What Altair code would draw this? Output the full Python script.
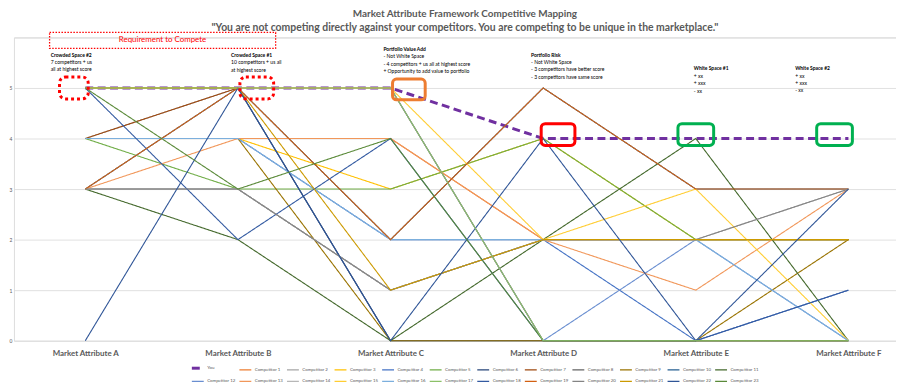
import altair as alt
import pandas as pd

# ---------------- data ----------------
categories = ["Market Attribute A", "Market Attribute B", "Market Attribute C",
              "Market Attribute D", "Market Attribute E", "Market Attribute F"]

series_names = ["You"] + [f"Competitor {i}" for i in range(1, 24)]

you_scores = [5, 5, 5, 4, 4, 4]
competitor_scores = [
    [4, 4, 4, 2, 2, 2],   # Competitor 1
    [4, 5, 0, 0, 0, 0],   # Competitor 2
    [4, 4, 3, 4, 2, 2],   # Competitor 3
    [4, 4, 2, 2, 0, 1],   # Competitor 4
    [4, 3, 3, 4, 2, 2],   # Competitor 5
    [5, 5, 0, 0, 0, 0],   # Competitor 6
    [4, 5, 5, 0, 0, 0],   # Competitor 7
    [3, 3, 1, 2, 2, 2],   # Competitor 8
    [4, 4, 0, 0, 0, 2],   # Competitor 9
    [3, 5, 2, 5, 3, 3],   # Competitor 10
    [3, 2, 0, 2, 4, 0],   # Competitor 11
    [5, 5, 5, 0, 2, 0],   # Competitor 12
    [3, 4, 4, 2, 1, 3],   # Competitor 13
    [3, 3, 1, 2, 2, 3],   # Competitor 14
    [5, 5, 5, 2, 3, 0],   # Competitor 15
    [4, 4, 2, 2, 2, 0],   # Competitor 16
    [5, 5, 5, 0, 0, 0],   # Competitor 17
    [5, 2, 4, 0, 0, 1],   # Competitor 18
    [3, 5, 2, 5, 3, 3],   # Competitor 19
    [3, 3, 1, 2, 2, 3],   # Competitor 20
    [5, 5, 1, 2, 2, 2],   # Competitor 21
    [0, 5, 0, 4, 0, 3],   # Competitor 22
    [5, 3, 4, 0, 0, 0],   # Competitor 23
]

series_colors = ["#7030A0",
                 "#ED7D31", "#A5A5A5", "#FFC000", "#4472C4", "#70AD47",
                 "#264478", "#9E480E", "#636363", "#997300", "#255E91", "#43682B",
                 "#698ED0", "#F1975A", "#B7B7B7", "#FFCD33", "#7CAFDD", "#8CC168",
                 "#335AA1", "#D26012", "#848484", "#CC9A00", "#2F5597", "#5A8A39"]

# drawing order (You underneath, Competitor 17 on top along the baseline)
draw_order = ["You"] + [f"Competitor {i}" for i in range(1, 24) if i != 17] + ["Competitor 17"]

all_scores = dict(zip(series_names, [you_scores] + competitor_scores))
rows = []
for name in draw_order:
    for i, v in enumerate(all_scores[name]):
        rows.append({"series": name, "pos": i, "score": v})
lines_df = pd.DataFrame(rows)

# annotations
note_titles = ["Crowded Space #2", "Crowded Space #1", "Portfolio Value Add",
               "Portfolio Risk", "White Space #1", "White Space #2"]
note_lines = [
    ["7 competitors + us", "all at highest score"],
    ["10 competitors + us all", "at highest score"],
    ["- Not White Space", "- 4 competitors + us all at highest score",
     "+ Opportunity to add value to portfolio"],
    ["- Not White Space", "- 3 competitors have better score",
     "- 3 competitors have same score"],
    ["+ xx", "+ xxx", "- xx"],
    ["+ xx", "+ xxx", "- xx"],
]
note_x = [-0.227, 0.955, 1.953, 2.920, 3.987, 4.651]
note_top = [5.661, 5.653, 5.771, 5.661, 5.386, 5.392]
line_step = 0.147

head_df = pd.DataFrame({"x": note_x, "y": note_top, "text": note_titles})
body_rows = []
for x, top, lines in zip(note_x, note_top, note_lines):
    for j, t in enumerate(lines):
        body_rows.append({"x": x, "y": top - (j + 1) * line_step, "text": t})
body_df = pd.DataFrame(body_rows)

req_text = "Requirement to Compete"
req_df = pd.DataFrame({"x": [0.506], "y": [5.941], "text": [req_text],
                       "x0": [-0.234], "x1": [1.247], "y0": [5.784], "y1": [6.098]})

dotted_df = pd.DataFrame({"x0": [-0.169, 1.013], "x1": [0.019, 1.234],
                          "y0": [4.784, 4.784], "y1": [5.216, 5.216]})
solid_df = pd.DataFrame({
    "x0": [2.013, 2.987, 3.883, 4.792],
    "x1": [2.227, 3.208, 4.117, 5.026],
    "y0": [4.765, 3.863, 3.863, 3.863],
    "y1": [5.176, 4.294, 4.294, 4.294],
    "color": ["#ED7D31", "#FF0000", "#00B050", "#00B050"],
})

# ---------------- chart ----------------
FONT = "Lato"
xscale = alt.Scale(domain=[-0.4675, 5.3117], nice=False, zero=False)
yscale = alt.Scale(domain=[0, 6], nice=False, zero=False)

label_expr = "[" + ",".join(f"'{c}'" for c in categories) + "][datum.value]"

x_axis = alt.Axis(values=list(range(6)), labelExpr=label_expr, grid=False, domain=False,
                  ticks=False, title=None, labelFont=FONT, labelFontSize=8,
                  labelFontWeight="bold", labelColor="#595959", labelPadding=9)
y_axis = alt.Axis(values=list(range(7)), labelExpr="datum.value == 6 ? '' : datum.label",
                  grid=True, gridColor="#D9D9D9", gridWidth=0.8, domain=False, ticks=False,
                  title=None, labelFont=FONT, labelFontSize=5, labelColor="#595959",
                  labelPadding=2)

legend = alt.Legend(title=None, orient="none", legendX=178, legendY=326, columns=12,
                    direction="horizontal",
                    symbolType="stroke", symbolSize=144, labelFont=FONT, labelFontSize=4.4,
                    labelColor="#595959", columnPadding=1, rowPadding=-2.5, labelOffset=2,
                    padding=0, labelLimit=60)

base_lines = alt.Chart(lines_df).mark_line(strokeCap="butt").encode(
    x=alt.X("pos:Q", scale=xscale, axis=x_axis),
    y=alt.Y("score:Q", scale=yscale, axis=y_axis),
    color=alt.Color("series:N", scale=alt.Scale(domain=series_names, range=series_colors),
                    legend=legend, sort=series_names),
    strokeDash=alt.StrokeDash("series:N",
                              scale=alt.Scale(domain=series_names,
                                              range=[[8, 4.5]] + [[1, 0]] * 23),
                              legend=legend, sort=series_names),
    strokeWidth=alt.StrokeWidth("series:N",
                                scale=alt.Scale(type="ordinal", domain=series_names,
                                                range=[3] + [1.1] * 23),
                                legend=legend, sort=series_names),
    detail="series:N",
)

heads = alt.Chart(head_df).mark_text(align="left", baseline="middle", font=FONT,
                                     fontSize=5, fontWeight="bold", color="#000000").encode(
    x=alt.X("x:Q", scale=xscale), y=alt.Y("y:Q", scale=yscale), text="text:N")
bodies = alt.Chart(body_df).mark_text(align="left", baseline="middle", font=FONT,
                                      fontSize=5.1, color="#000000").encode(
    x=alt.X("x:Q", scale=xscale), y=alt.Y("y:Q", scale=yscale), text="text:N")

req_box = alt.Chart(req_df).mark_rect(fillOpacity=0, stroke="#FF0000", strokeWidth=1.3,
                                      strokeDash=[1.5, 1.5]).encode(
    x=alt.X("x0:Q", scale=xscale), x2="x1:Q", y=alt.Y("y0:Q", scale=yscale), y2="y1:Q")
req_txt = alt.Chart(req_df).mark_text(align="center", baseline="middle", font=FONT,
                                      fontSize=8, color="#FF0000").encode(
    x=alt.X("x:Q", scale=xscale), y=alt.Y("y:Q", scale=yscale), text="text:N")

dotted = alt.Chart(dotted_df).mark_rect(fillOpacity=0, stroke="#FF0000", strokeWidth=3,
                                        strokeDash=[3, 3], cornerRadius=6).encode(
    x=alt.X("x0:Q", scale=xscale), x2="x1:Q", y=alt.Y("y0:Q", scale=yscale), y2="y1:Q")
solid = alt.Chart(solid_df).mark_rect(fillOpacity=0, strokeWidth=3, cornerRadius=4).encode(
    x=alt.X("x0:Q", scale=xscale), x2="x1:Q", y=alt.Y("y0:Q", scale=yscale), y2="y1:Q",
    stroke=alt.Stroke("color:N", scale=None))

chart = alt.layer(base_lines, dotted, solid, req_box, req_txt, heads, bodies).properties(
    width=890, height=306,
    title=alt.TitleParams(
        text="Market Attribute Framework Competitive Mapping",
        subtitle="\"You are not competing directly against your competitors.  You are competing to be unique in the marketplace.\"",
        anchor="middle", dx=10, font=FONT, subtitleFont=FONT, fontSize=10,
        subtitleFontSize=10.5, fontWeight="bold", subtitleFontWeight="bold",
        color="#595959", subtitleColor="#595959", offset=-2, subtitlePadding=4),
    autosize=alt.AutoSizeParams(type="none"),
    padding={"left": 6, "top": 28, "right": 0, "bottom": 42},
).configure_view(stroke=None).configure(background="white")

chart.save("out.html", embed_options={"renderer": "svg", "actions": False})
